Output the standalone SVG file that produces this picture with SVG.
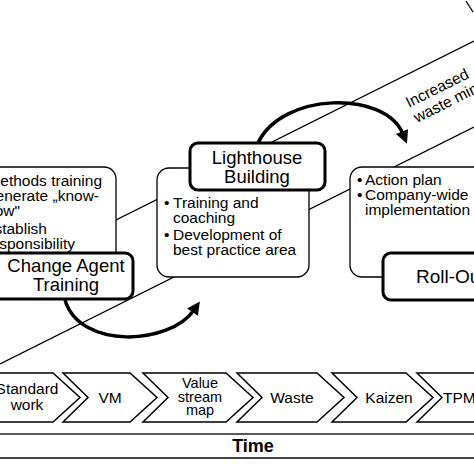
<svg xmlns="http://www.w3.org/2000/svg" width="474" height="474" viewBox="0 0 474 474">
<style>
text{font-family:"Liberation Sans",Arial,sans-serif;fill:#000}
.t{font-size:15.5px}
.h{font-size:18.5px;text-anchor:middle}
.c{font-size:15.5px;text-anchor:middle}
.tb{fill:#fff;stroke:#000;stroke-width:1.3}
.hb{fill:#fff;stroke:#000;stroke-width:3}
.band{stroke:#000;stroke-width:1.3;fill:none}
.chev{fill:#fff;stroke:#000;stroke-width:1.5;stroke-linejoin:miter}
.arc{fill:none;stroke:#000;stroke-width:3.5}
</style>
<defs>
<marker id="ah" viewBox="0 0 10 10" refX="2" refY="5" markerWidth="14" markerHeight="13" markerUnits="userSpaceOnUse" orient="auto"><path d="M0,0 L10,5 L0,10 z" fill="#000"/></marker>
</defs>
<rect width="474" height="474" fill="#fff"/>
<g id="band">
<line class="band" x1="0" y1="278" x2="474" y2="41"/>
<line class="band" x1="0" y1="364" x2="474" y2="127"/>
<text class="t" transform="translate(409,108) rotate(-26.57)">Increased</text>
<text class="t" transform="translate(417,123) rotate(-26.57)">waste minimization</text>
<path d="M466,1 L473,12" stroke="#000" stroke-width="1.3" fill="none"/>
</g>
<g id="change-agent">
<rect class="tb" x="-20" y="167" width="136" height="120" rx="12"/>
<text class="t" text-anchor="end" x="102" y="186">• Methods training</text>
<text class="t" text-anchor="end" x="99" y="201">• Generate „know-</text>
<text class="t" text-anchor="end" x="20" y="216">how"</text>
<text class="t" text-anchor="end" x="47" y="234">• Establish</text>
<text class="t" text-anchor="end" x="75" y="249">responsibility</text>
<rect class="hb" x="-20" y="253" width="153" height="46" rx="8"/>
<text class="h" x="66" y="272">Change Agent</text>
<text class="h" x="66" y="291">Training</text>
</g>
<g id="lighthouse">
<rect class="tb" x="157" y="168" width="152" height="109" rx="12"/>
<text class="t" x="164" y="208">•</text>
<text class="t" x="173" y="208">Training and</text>
<text class="t" x="173" y="223">coaching</text>
<text class="t" x="164" y="240">•</text>
<text class="t" x="173" y="240">Development of</text>
<text class="t" x="173" y="255">best practice area</text>
<rect class="hb" x="190" y="143" width="135" height="47" rx="8"/>
<text class="h" x="257" y="164">Lighthouse</text>
<text class="h" x="257" y="183">Building</text>
</g>
<g id="roll-out">
<rect class="tb" x="350" y="167" width="150" height="110" rx="12"/>
<text class="t" x="357" y="185">•</text>
<text class="t" x="365" y="185">Action plan</text>
<text class="t" x="357" y="200">•</text>
<text class="t" x="365" y="200">Company-wide</text>
<text class="t" x="365" y="215">implementation</text>
<rect class="hb" x="383" y="253" width="120" height="47" rx="8"/>
<text style="font-size:19px" x="416" y="283">Roll-Out</text>
</g>
<g id="connectors">
<path class="arc" d="M258,143 C282,92 385,90 403,134" marker-end="url(#ah)"/>
<path class="arc" d="M65,300 C80,350 170,345 194,310" marker-end="url(#ah)"/>
</g>
<g id="steps">
<g id="step-standard-work"><path class="chev" d="M-30,373 L53,373 L80,397.5 L53,422 L-30,422 L-5,397.5 Z"/><text class="c" x="27" y="394">Standard</text><text class="c" x="27" y="410">work</text></g>
<g id="step-vm"><path class="chev" d="M63,373 L130,373 L157,397.5 L130,422 L63,422 L88,397.5 Z"/><text class="c" x="110" y="403">VM</text></g>
<g id="step-vsm"><path class="chev" d="M143,373 L226,373 L253,397.5 L226,422 L143,422 L168,397.5 Z"/><text class="c" style="font-size:14.5px" x="200" y="388">Value</text><text class="c" style="font-size:14.5px" x="200" y="402">stream</text><text class="c" style="font-size:14.5px" x="200" y="415">map</text></g>
<g id="step-waste"><path class="chev" d="M237,373 L317,373 L344,397.5 L317,422 L237,422 L262,397.5 Z"/><text class="c" x="292" y="403">Waste</text></g>
<g id="step-kaizen"><path class="chev" d="M332,373 L406,373 L433,397.5 L406,422 L332,422 L357,397.5 Z"/><text class="c" x="389" y="403">Kaizen</text></g>
<g id="step-tpm"><path class="chev" d="M417,373 L520,373 L547,397.5 L520,422 L417,422 L442,397.5 Z"/><text class="t" x="443" y="403">TPM</text></g>
</g>
<g id="time">
<line x1="0" y1="434" x2="474" y2="434" stroke="#222" stroke-width="1.3"/>
<line x1="0" y1="458" x2="474" y2="458" stroke="#444" stroke-width="1.8"/>
<text x="253" y="452" style="font-size:18px;font-weight:bold;text-anchor:middle">Time</text>
</g>
</svg>
